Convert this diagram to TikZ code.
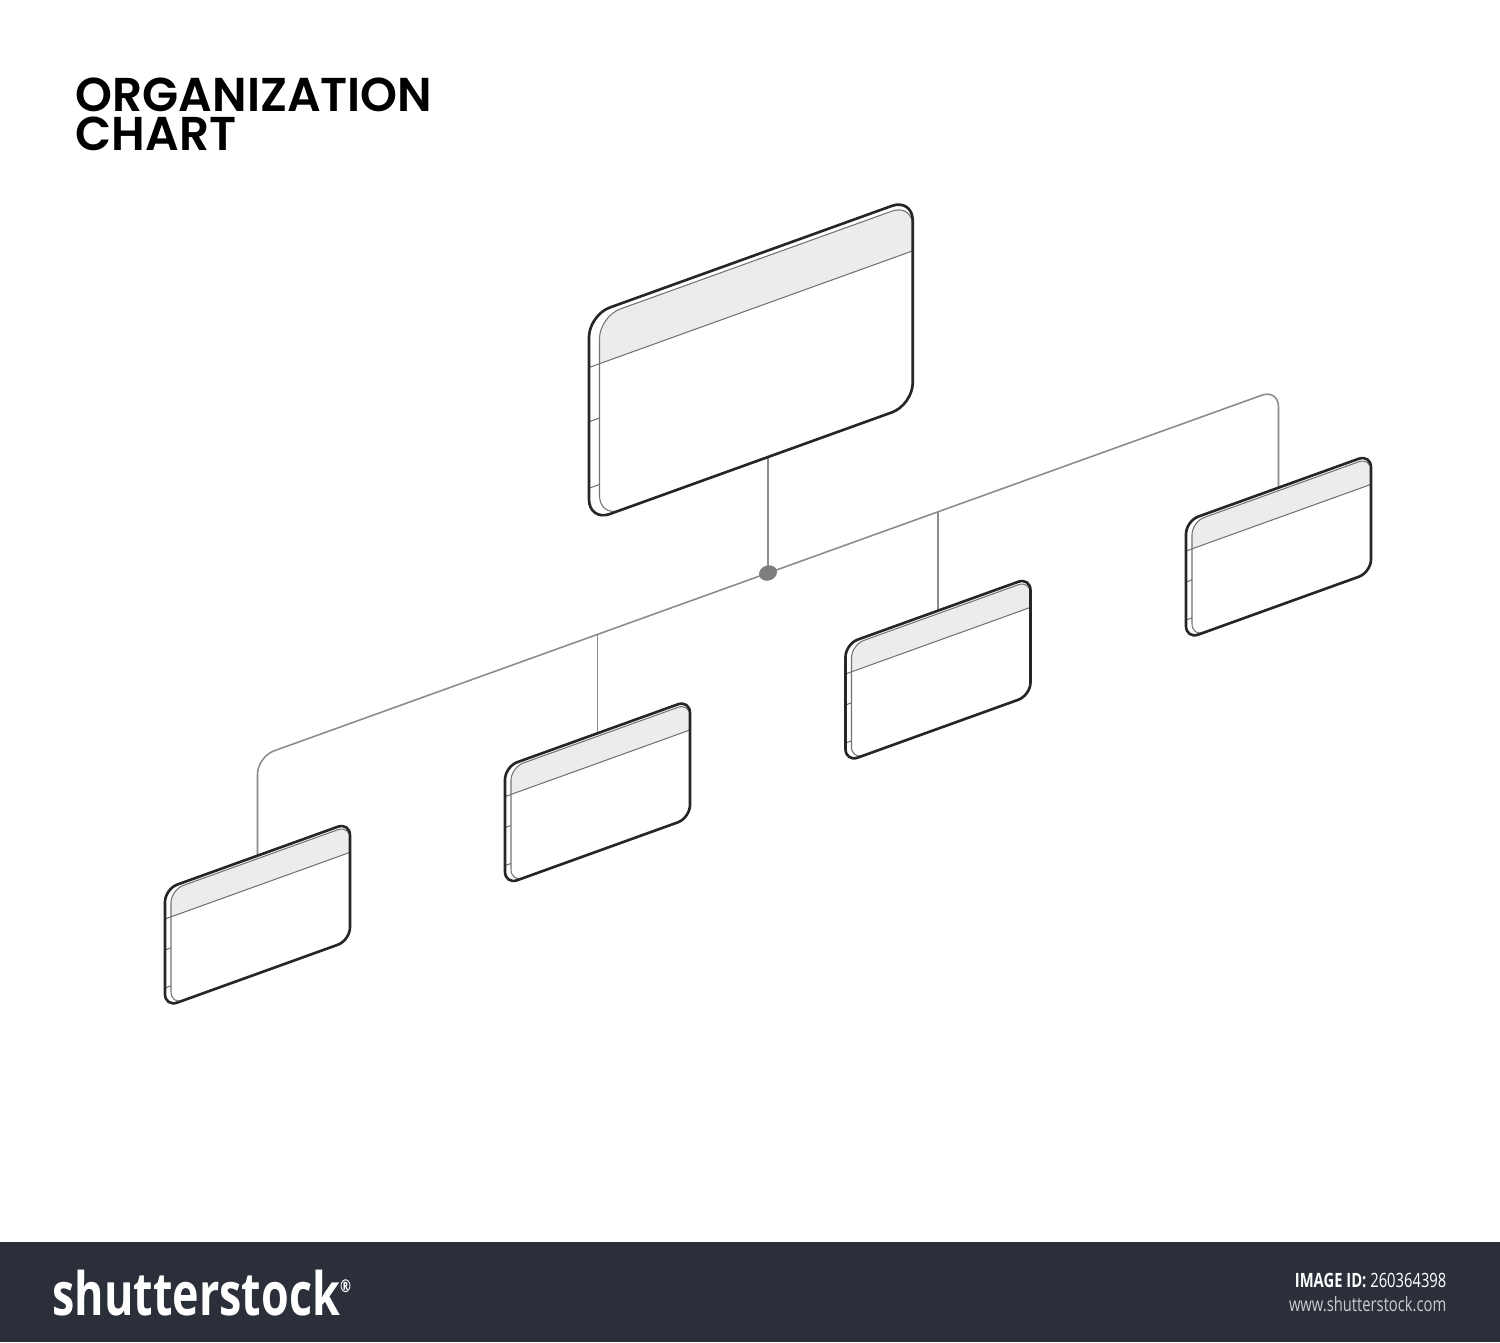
\documentclass[tikz,border=0pt]{standalone}
\usepackage{fontspec}
\usetikzlibrary{backgrounds,shapes.geometric}
\newfontfamily\titlefont{Poppins SemiBold}[FakeStretch=0.99]
\newfontfamily\logofont{Open Sans}[FakeStretch=0.75]
\definecolor{headgray}{HTML}{ECECEC}
\definecolor{linkgray}{HTML}{8C8C8C}
\definecolor{bardark}{HTML}{2A2F3A}
\tikzset{
  cardedge/.style={draw=black!85, line width=0.75pt},
  cardinner/.style={draw=black!55, line width=0.3pt},
  link/.style={draw=linkgray, line width=0.45pt},
  hubdot/.style={ellipse, fill=linkgray!90!black, minimum width=5.2pt, minimum height=4.3pt, inner sep=0pt, rotate=20},
  title/.style={font=\titlefont\fontsize{13.5}{11}\selectfont, align=left, anchor=north west, inner sep=0pt},
  logo/.style={font=\logofont\bfseries\fontsize{17}{17}\selectfont, text=white, inner sep=0pt},
  barsmall/.style={font=\logofont\fontsize{5.6}{5.6}\selectfont, text=white, inner sep=0pt},
  card r/.store in=\cardr, card r=3.7pt,
  pics/card/.style={code={
    \begin{scope}[x={(0.01cm,0.0036cm)}, y={(0,-0.01cm)}]
      % body
      \fill[white, rounded corners=\cardr] (0,0) -- (185,0) -- (185,118) -- (0,118) -- cycle;
      % header band
      \begin{scope}
        \clip[rounded corners=\cardr] (6,3) -- (185,3) -- (185,118) -- (6,118) -- cycle;
        \fill[headgray] (6,3) -- (185,3) -- (185,30) -- (6,30) -- cycle;
      \end{scope}
      \draw[cardinner, rounded corners=\cardr] (6,3) -- (185,3) -- (185,118) -- (6,118) -- cycle;
      \draw[cardinner] (6,30) -- (185,30);
      \foreach \v in {30,61,99} \draw[cardinner] (0,\v) -- (6,\v);
      % outline
      \draw[cardedge, rounded corners=\cardr] (0,0) -- (185,0) -- (185,118) -- (0,118) -- cycle;
      \coordinate (-c) at (92.5,59);
    \end{scope}
  }}
}
\begin{document}
\begin{tikzpicture}[x=0.01cm, y=-0.01cm]
    \useasboundingbox (0,0) rectangle (1500,1342);

    % Title
    \node[title] (title) at (75,77) {ORGANIZATION\\CHART};

    % Draw cards
    \pic[scale=1.75, card r=6.3pt] (ceo) at (589,315) {card};
    \pic (teamA) at (165,889) {card};
    \pic (teamB) at (505,766.6) {card};
    \pic (teamC) at (845.5,644) {card};
    \pic (teamD) at (1186,521) {card};

    % Hub and bends
    \node[hubdot] (hub) at (768,573) {};
    \coordinate (bendL) at (257.5,756.8);
    \coordinate (bendR) at (1278.5,389.2);
    \coordinate (jB) at (597.5,634.4);
    \coordinate (jC) at (938,511.8);

    % Draw links
    \begin{scope}[on background layer]
        \draw[link] (hub.center) -- (hub |- ceo-c);
        \draw[link, rounded corners=5pt] (bendL |- teamA-c) -- (bendL) -- (bendR) -- (bendR |- teamD-c);
        \draw[link] (jB) -- (jB |- teamB-c);
        \draw[link] (jC) -- (jC |- teamC-c);
    \end{scope}

    % Bottom bar
    \fill[bardark] (0,1242) rectangle (1500,1342);
    \node[logo, anchor=base west] (logo) at (52,1315) {shutterstock\textsuperscript{\tiny ®}};
    \node[barsmall, anchor=base east] (imgid) at (1447,1287) {\textbf{IMAGE ID:} 260364398};
    \node[barsmall, anchor=base east, text=white!75!bardark] (site) at (1447,1311) {www.shutterstock.com};
\end{tikzpicture}
\end{document}
